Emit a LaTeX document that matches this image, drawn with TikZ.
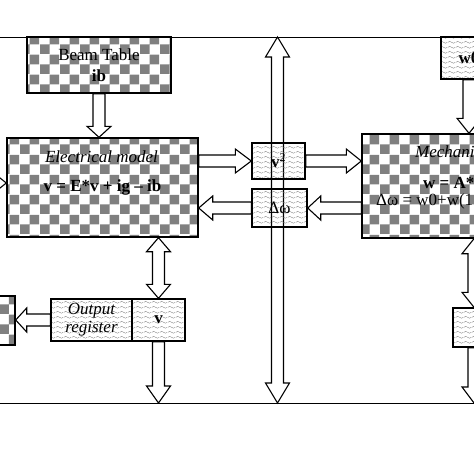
\documentclass[tikz,border=0pt]{standalone}
\usepackage{fontspec}
\setmainfont{Liberation Serif}
\usetikzlibrary{calc,patterns}

\pgfdeclarepatternformonly{checker}{\pgfpointorigin}{\pgfqpoint{20pt}{20pt}}{\pgfqpoint{20pt}{20pt}}{%
  \pgfpathrectangle{\pgfpointorigin}{\pgfqpoint{10pt}{10pt}}%
  \pgfpathrectangle{\pgfqpoint{10pt}{10pt}}{\pgfqpoint{10pt}{10pt}}%
  \pgfusepath{fill}}
\pgfdeclarepatternformonly{waves}{\pgfpointorigin}{\pgfqpoint{8pt}{5pt}}{\pgfqpoint{8pt}{5pt}}{%
  \pgfsetlinewidth{0.35pt}%
  \pgfpathmoveto{\pgfqpoint{0pt}{2pt}}%
  \pgfpathcurveto{\pgfqpoint{1.3pt}{3.5pt}}{\pgfqpoint{2.7pt}{3.5pt}}{\pgfqpoint{4pt}{2pt}}%
  \pgfpathcurveto{\pgfqpoint{5.3pt}{0.5pt}}{\pgfqpoint{6.7pt}{0.5pt}}{\pgfqpoint{8pt}{2pt}}%
  \pgfusepath{stroke}}

\tikzset{
  chkbox/.style={draw, line width=1.4pt, pattern=checker, pattern color=black!50, inner sep=0pt},
  wavbox/.style={draw, line width=1.4pt, pattern=waves, pattern color=black!55, inner sep=0pt},
  blockarr/.style={draw, fill=white, line width=1.1pt, line join=miter},
  lbl/.style={inner sep=0pt},
}
\newcommand{\arrshaft}{6pt}
\newcommand{\arrhead}{12pt}
% hollow arrow: #1 head length, #2 start, #3 tip
\newcommand{\blockarrow}[3]{%
  \coordinate (bs) at (#2);
  \coordinate (bt) at (#3);
  \coordinate (bh) at ($(bt)!#1!(bs)$);
  \draw[blockarr] ($(bs)!\arrshaft!90:(bt)$) -- ($(bh)!\arrshaft!90:(bt)$)
    -- ($(bh)!\arrhead!90:(bt)$) -- (bt) -- ($(bh)!\arrhead!-90:(bt)$)
    -- ($(bh)!\arrshaft!-90:(bt)$) -- ($(bs)!\arrshaft!-90:(bt)$) -- cycle;}
% hollow arrow with a head at both ends
\newcommand{\dblockarrow}[3]{%
  \coordinate (bs) at (#2);
  \coordinate (bt) at (#3);
  \coordinate (ba) at ($(bs)!#1!(bt)$);
  \coordinate (bh) at ($(bt)!#1!(bs)$);
  \draw[blockarr] (bs) -- ($(ba)!\arrhead!90:(bt)$) -- ($(ba)!\arrshaft!90:(bt)$)
    -- ($(bh)!\arrshaft!90:(bt)$) -- ($(bh)!\arrhead!90:(bt)$) -- (bt)
    -- ($(bh)!\arrhead!-90:(bt)$) -- ($(bh)!\arrshaft!-90:(bt)$)
    -- ($(ba)!\arrshaft!-90:(bt)$) -- ($(ba)!\arrhead!-90:(bt)$) -- cycle;}

\begin{document}
\begin{tikzpicture}[x=1pt, y=-1pt, font=\fontsize{17}{18}\selectfont]
\useasboundingbox (0,0) rectangle (474,474);
\clip (0,0) rectangle (474,474);
\draw[line width=1pt] (0,37) -- (474,37);
\draw[line width=1pt] (0,403) -- (474,403);
\coordinate (vtop) at (277.5,37);
\coordinate (vbot) at (277.5,403);
\coordinate (lin) at (-40,183);
\dblockarrow{20pt}{vtop}{vbot}

% boxes
\node[chkbox, minimum width=144pt, minimum height=56pt, align=center] (beam) at (99,65)
    {Beam Table\\[3pt]\textbf{ib}};
\node[chkbox, minimum width=191pt, minimum height=99pt] (elec) at (102.5,187.5) {};
\node[lbl] (elect) at (101.5,157) {\itshape Electrical model};
\node[lbl] (elecf) at (102.5,187) {\textbf{v = E*v + ig – ib}};
\node[wavbox, minimum width=53pt, minimum height=36pt] (v2) at (278.5,161)
    {\textbf{v}\textsuperscript{2}};
\node[wavbox, minimum width=55pt, minimum height=38pt] (dw) at (279.5,208) {Δω};
\node[chkbox, minimum width=218pt, minimum height=104pt] (mech) at (471,186) {};
\node[lbl, anchor=west] (mecht) at (415,152) {\itshape Mechanical model};
\node[lbl, anchor=west] (mechf) at (423,183) {\textbf{w = A*}};
\node[lbl, anchor=west] (mechd) at (376,201) {Δω = w0+w(1};
\node[wavbox, minimum width=56pt, minimum height=42pt] (w0) at (469,58) {\textbf{w0}};
\node[wavbox, minimum width=81pt, minimum height=42pt, align=center, font=\fontsize{17}{18}\selectfont\itshape]
    (outreg) at (91.5,320) {Output\\register};
\node[wavbox, minimum width=53pt, minimum height=42pt] (v) at (158.5,320) {\textbf{v}};
\node[chkbox, minimum width=55pt, minimum height=49pt] (lbox) at (-12.5,320.5) {};
\node[wavbox, minimum width=42pt, minimum height=39pt] (rbox) at (474,327.5) {};

% arrows
\blockarrow{11pt}{beam.south}{beam.south |- elec.north}
\blockarrow{15pt}{lin}{lin -| elec.west}
\blockarrow{16pt}{elec.east |- v2.west}{v2.west}
\blockarrow{15pt}{v2.east}{v2.east -| mech.west}
\blockarrow{13pt}{mech.west |- dw.east}{dw.east}
\blockarrow{14pt}{dw.west}{dw.west -| elec.east}
\dblockarrow{14pt}{v.north |- elec.south}{v.north}
\blockarrow{17pt}{v.south}{v.south |- vbot}
\blockarrow{11pt}{outreg.west}{outreg.west -| lbox.east}
\blockarrow{15pt}{w0.south}{w0.south |- mech.north}
\dblockarrow{15pt}{rbox.north |- mech.south}{rbox.north}
\blockarrow{16pt}{rbox.south}{rbox.south |- vbot}
\end{tikzpicture}
\end{document}
